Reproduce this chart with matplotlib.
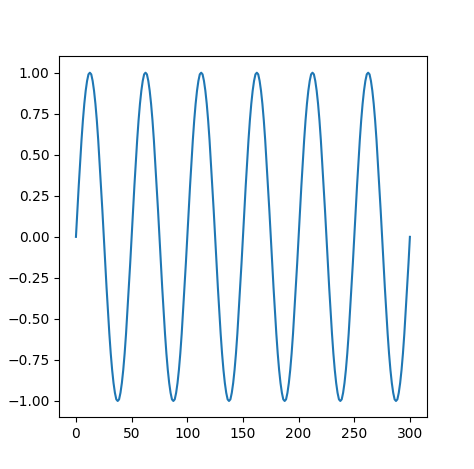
import matplotlib
matplotlib.use('agg')
import matplotlib.pyplot as plt

# values every 1.25 units along x, one period per row
x_values = [i * 1.25 for i in range(241)]
y_values = [
	0, .16, .31, .45, .59, .71, .81, .89, .95, .99, 1, .99, .95, .89, .81, .71, .59, .45, .31, .16,
	0, -.16, -.31, -.45, -.59, -.71, -.81, -.89, -.95, -.99, -1, -.99, -.95, -.89, -.81, -.71, -.59, -.45, -.31, -.16,
	0, .16, .31, .45, .59, .71, .81, .89, .95, .99, 1, .99, .95, .89, .81, .71, .59, .45, .31, .16,
	0, -.16, -.31, -.45, -.59, -.71, -.81, -.89, -.95, -.99, -1, -.99, -.95, -.89, -.81, -.71, -.59, -.45, -.31, -.16,
	0, .16, .31, .45, .59, .71, .81, .89, .95, .99, 1, .99, .95, .89, .81, .71, .59, .45, .31, .16,
	0, -.16, -.31, -.45, -.59, -.71, -.81, -.89, -.95, -.99, -1, -.99, -.95, -.89, -.81, -.71, -.59, -.45, -.31, -.16,
	0, .16, .31, .45, .59, .71, .81, .89, .95, .99, 1, .99, .95, .89, .81, .71, .59, .45, .31, .16,
	0, -.16, -.31, -.45, -.59, -.71, -.81, -.89, -.95, -.99, -1, -.99, -.95, -.89, -.81, -.71, -.59, -.45, -.31, -.16,
	0, .16, .31, .45, .59, .71, .81, .89, .95, .99, 1, .99, .95, .89, .81, .71, .59, .45, .31, .16,
	0, -.16, -.31, -.45, -.59, -.71, -.81, -.89, -.95, -.99, -1, -.99, -.95, -.89, -.81, -.71, -.59, -.45, -.31, -.16,
	0, .16, .31, .45, .59, .71, .81, .89, .95, .99, 1, .99, .95, .89, .81, .71, .59, .45, .31, .16,
	0, -.16, -.31, -.45, -.59, -.71, -.81, -.89, -.95, -.99, -1, -.99, -.95, -.89, -.81, -.71, -.59, -.45, -.31, -.16,
	0,
]

fig = plt.figure(figsize=(4.74, 4.69), dpi=100)
plt.plot(x_values, y_values)
plt.savefig('out.png')
plt.close()
